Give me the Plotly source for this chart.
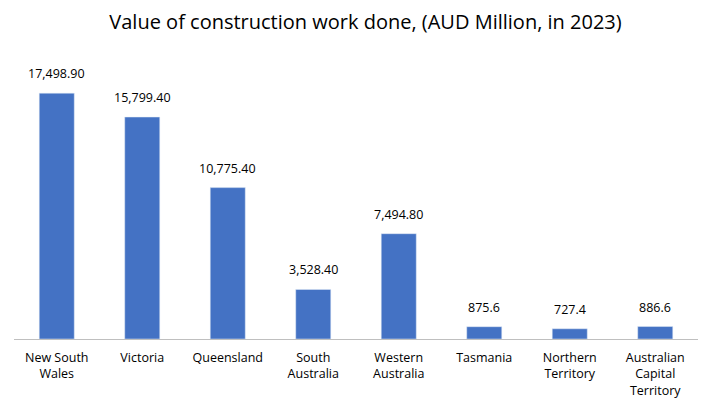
import plotly.graph_objects as go

categories = ["New South<br>Wales", "Victoria", "Queensland", "South<br>Australia",
              "Western<br>Australia", "Tasmania", "Northern<br>Territory",
              "Australian<br>Capital<br>Territory"]
values = [17498.9, 15799.4, 10775.4, 3528.4, 7494.8, 875.6, 727.4, 886.6]
labels = ["17,498.90", "15,799.40", "10,775.40", "3,528.40", "7,494.80", "875.6", "727.4", "886.6"]

fig = go.Figure(go.Bar(
    x=categories, y=values,
    marker_color="#4472C4", width=0.41, cliponaxis=False,
))

for c, v, t in zip(categories, values, labels):
    fig.add_annotation(x=c, y=v, text=t, showarrow=False, yanchor="bottom",
                       yshift=9, font=dict(size=12.5, color="#000000", family="Open Sans"))

fig.update_layout(
    width=715, height=407,
    margin=dict(l=6, r=25, t=50, b=76),
    paper_bgcolor="white", plot_bgcolor="white",
    title=dict(text="Value of construction work done, (AUD Million, in 2023)",
               x=0.5, xanchor="center", y=0.965, yanchor="middle",
               font=dict(size=20, color="#000000", family="Open Sans")),
    font=dict(family="Open Sans", size=12.5, color="#000000"),
    showlegend=False,
)
fig.update_xaxes(showline=True, linecolor="#BFBFBF", linewidth=1, ticks="",
                 automargin=False, ticklabelstandoff=7,
                 tickfont=dict(size=12.5, color="#000000"))
fig.update_yaxes(visible=False, range=[0, 20000], showgrid=False, automargin=False)

fig.write_html("out.html")
